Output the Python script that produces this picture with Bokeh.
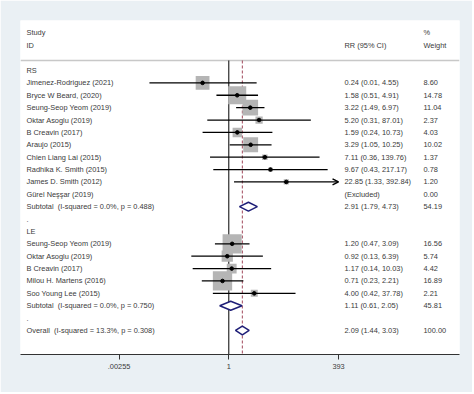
import math
from bokeh.plotting import figure
from bokeh.models import Range1d, FixedTicker, Arrow, OpenHead
from bokeh.core.properties import value
from bokeh.embed import file_html
from bokeh.resources import INLINE

# ---------------- data ----------------
rs_studies = ["Jimenez-Rodriguez (2021)", "Bryce W Beard, (2020)", "Seung-Seop Yeom (2019)",
              "Oktar Asoglu (2019)", "B Creavin (2017)", "Araujo (2015)", "Chien Liang Lai (2015)",
              "Radhika K. Smith (2015)", "James D. Smith (2012)", "Gürel Neşşar (2019)"]
rs_rr = [0.24, 1.58, 3.22, 5.20, 1.59, 3.29, 7.11, 9.67, 22.85, None]
rs_lo = [0.0133, 0.51, 1.49, 0.31, 0.24, 1.05, 0.36, 0.43, 1.33, None]
rs_hi = [4.55, 4.91, 6.97, 87.01, 10.73, 10.25, 139.76, 217.17, 392.84, None]
rs_w = [8.60, 14.78, 11.04, 2.37, 4.03, 10.02, 1.37, 0.78, 1.20, 0.00]
rs_sub = ("Subtotal\u00a0 (I-squared = 0.0%, p = 0.488)", 2.91, 1.79, 4.73, 54.19)

le_studies = ["Seung-Seop Yeom (2019)", "Oktar Asoglu (2019)", "B Creavin (2017)",
              "Milou H. Martens (2016)", "Soo Young Lee (2015)"]
le_rr = [1.20, 0.92, 1.17, 0.71, 4.00]
le_lo = [0.47, 0.13, 0.14, 0.23, 0.42]
le_hi = [3.09, 6.39, 10.03, 2.21, 37.78]
le_w = [16.56, 5.74, 4.42, 16.89, 2.21]
le_sub = ("Subtotal\u00a0 (I-squared = 0.0%, p = 0.750)", 1.11, 0.61, 2.05, 45.81)

overall = ("Overall\u00a0 (I-squared = 13.3%, p = 0.308)", 2.09, 1.44, 3.03, 100.00)

axis_ticks = [0.00255, 1, 393]
axis_tick_labels = [".00255", "1", "393"]

# ---------------- layout helpers ----------------
W, H = 472, 392
FRAME_L, FRAME_R, FRAME_T, FRAME_B = 20, 13, 20, 38
frame_w = W - FRAME_L - FRAME_R
PX_PER_DEC = 42.3
ONE_PX = 208.3  # pixel position of RR=1 inside the frame
x_start = 10 ** (-ONE_PX / PX_PER_DEC)
x_end = 10 ** ((frame_w - ONE_PX) / PX_PER_DEC)


def col_x(frame_px):
    return 10 ** ((frame_px - ONE_PX) / PX_PER_DEC)


ROW_TOP, ROW_BOTTOM = -4.04, 22.94
HEADER_LINE = -0.81

FONT = "Liberation Sans"
TXT = "#3a3a3a"
FS = "7.4px"

# ---------------- build rows ----------------
lab_y, lab_t, est_y, est_t, wt_y, wt_t = [], [], [], [], [], []
st_y, st_rr, st_lo, st_hi, st_w = [], [], [], [], []
dia = []  # (y, est, lo, hi)
row = 0


def fmt(r, l, h):
    return f"{r:.2f} ({l:.2f}, {h:.2f})"


def add_group(name, studies, rr, lo, hi, w, sub):
    global row
    lab_y.append(row); lab_t.append(name); row += 1
    for s, r, l, h, ww in zip(studies, rr, lo, hi, w):
        lab_y.append(row); lab_t.append(s)
        est_y.append(row); est_t.append("(Excluded)" if r is None else fmt(r, l, h))
        wt_y.append(row); wt_t.append(f"{ww:.2f}")
        if r is not None:
            st_y.append(row); st_rr.append(r); st_lo.append(l); st_hi.append(h); st_w.append(ww)
        row += 1
    sname, sr, sl, sh, sw = sub
    lab_y.append(row); lab_t.append(sname)
    est_y.append(row); est_t.append(fmt(sr, sl, sh))
    wt_y.append(row); wt_t.append(f"{sw:.2f}")
    dia.append((row, sr, sl, sh))
    row += 1
    lab_y.append(row); lab_t.append("."); row += 1


add_group("RS", rs_studies, rs_rr, rs_lo, rs_hi, rs_w, rs_sub)
add_group("LE", le_studies, le_rr, le_lo, le_hi, le_w, le_sub)
oname, orr, olo, ohi, ow = overall
lab_y.append(row); lab_t.append(oname)
est_y.append(row); est_t.append(fmt(orr, olo, ohi))
wt_y.append(row); wt_t.append(f"{ow:.2f}")
dia.append((row, orr, olo, ohi))

# ---------------- figure ----------------
p = figure(width=W, height=H, x_axis_type="log",
           x_range=Range1d(x_start, x_end), y_range=Range1d(ROW_BOTTOM, ROW_TOP),
           output_backend="svg", toolbar_location=None, y_axis_location=None,
           min_border_left=FRAME_L, min_border_right=FRAME_R,
           min_border_top=FRAME_T, min_border_bottom=FRAME_B)
p.xgrid.visible = False
p.ygrid.visible = False
p.outline_line_color = None
p.background_fill_color = "white"
p.border_fill_color = "#eaf0f4"

ax = p.xaxis[0]
ax.ticker = FixedTicker(ticks=axis_ticks)
ax.major_label_overrides = {t: s for t, s in zip(axis_ticks, axis_tick_labels)}
ax.minor_tick_line_color = None
ax.major_tick_out = 5
ax.major_tick_in = 0
ax.axis_line_color = "#333333"
ax.major_tick_line_color = "#333333"
ax.major_label_text_font = FONT
ax.major_label_text_font_size = FS
ax.major_label_text_color = TXT
ax.major_label_standoff = 4

# header separator
p.segment(x0=[x_start], x1=[x_end], y0=[HEADER_LINE], y1=[HEADER_LINE],
          line_color="#c8c8c8", line_width=1.6)

# null line and overall dashed line
p.segment(x0=[1], x1=[1], y0=[HEADER_LINE], y1=[ROW_BOTTOM], line_color="black", line_width=1)
p.segment(x0=[orr], x1=[orr], y0=[HEADER_LINE], y1=[ROW_BOTTOM],
          line_color="#a0465a", line_width=1, line_dash="3 2")

# study boxes (area ~ weight)
p.scatter(x=st_rr, y=st_y, size=[4.7 * math.sqrt(w) for w in st_w], marker="square",
          fill_color="#b5b5b5", line_color=None)

# CIs
clip = axis_ticks[-1] * 0.99
norm = [(y, l, h) for y, l, h in zip(st_y, st_lo, st_hi) if h < clip]
p.segment(x0=[n[1] for n in norm], x1=[n[2] for n in norm], y0=[n[0] for n in norm],
          y1=[n[0] for n in norm], line_color="black", line_width=1.3)
for y, l, h in zip(st_y, st_lo, st_hi):
    if h >= clip:
        p.add_layout(Arrow(end=OpenHead(size=6, line_width=1.4, line_color="black"),
                           x_start=l, x_end=h, y_start=y, y_end=y,
                           line_color="black", line_width=1.3))

# point estimates
p.scatter(x=st_rr, y=st_y, size=3.6, marker="circle", fill_color="black", line_color="black")

# diamonds
DH = 0.36
p.patches(xs=[[l, e, h, e] for (y, e, l, h) in dia],
          ys=[[y, y - DH, y, y + DH] for (y, e, l, h) in dia],
          fill_color="white", line_color="#1f1f78", line_width=1.5)

# texts
common = dict(text_font=value(FONT), text_font_size=FS, text_baseline="middle", text_color=TXT)
xl, xe, xw = col_x(6), col_x(324), col_x(403)
p.text(x=[xl] * len(lab_y), y=lab_y, text=lab_t, **common)
p.text(x=[xe] * len(est_y), y=est_y, text=est_t, **common)
p.text(x=[xw] * len(wt_y), y=wt_y, text=wt_t, **common)
# header
p.text(x=[xl, xl, xe, xw, xw], y=[-3.07, -2.02, -2.02, -3.07, -2.02],
       text=["Study", "ID", "RR (95% CI)", "%", "Weight"], **common)

open("out.html", "w").write(file_html(p, INLINE))
